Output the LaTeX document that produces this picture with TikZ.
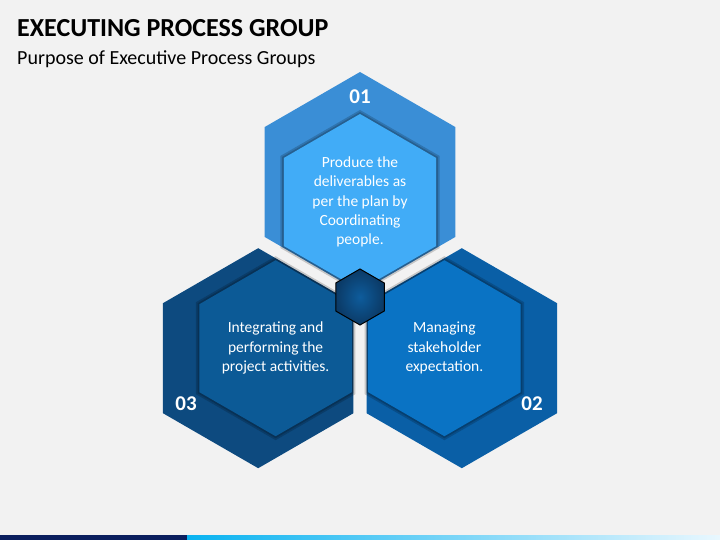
\documentclass[tikz,border=0pt]{standalone}
\usepackage{fontspec}
\setmainfont{Carlito}
\usepackage{tikz}

\definecolor{bgGrey}{HTML}{F2F2F2}
\definecolor{topOuter}{HTML}{3A8ED6}
\definecolor{topInner}{HTML}{41ACF7}
\definecolor{leftOuter}{HTML}{0D4A7F}
\definecolor{leftInner}{HTML}{0C5A96}
\definecolor{rightOuter}{HTML}{0A5FA6}
\definecolor{rightInner}{HTML}{0A73C4}
\definecolor{hubDark}{HTML}{0B3A66}
\definecolor{hubLight}{HTML}{0E5C9C}
\definecolor{barNavy}{HTML}{0B1F5E}
\definecolor{barBlue}{HTML}{0066B3}
\definecolor{barCyan}{HTML}{00B0F0}
\definecolor{barPale}{HTML}{F2FAFF}
\definecolor{barEnd}{HTML}{3FA7DD}

\pgfdeclarehorizontalshading{barShade}{100bp}{color(0bp)=(barBlue); color(23bp)=(barCyan); color(77bp)=(barPale); color(100bp)=(barEnd)}

% hexagon with a point on top: options, centre, radius
\newcommand{\hexshape}[3]{%
  \path[#1,shift={(#2)}] (90:#3) -- (150:#3) -- (210:#3) -- (270:#3) -- (330:#3) -- (30:#3) -- cycle;}

\begin{document}
\begin{tikzpicture}[x=1pt, y=-1pt,
title_style/.style={anchor=base west, inner sep=0, font=\bfseries\fontsize{26}{30}\selectfont},
subtitle_style/.style={anchor=base west, inner sep=0, font=\fontsize{20}{24}\selectfont},
body_style/.style={align=center, text=white, inner sep=0, font=\fontsize{15.5}{19.3}\selectfont},
number_style/.style={text=white, inner sep=0, font=\bfseries\fontsize{21}{24}\selectfont},
shadow_style/.style={fill=black, fill opacity=0.18}]

\fill[bgGrey] (0,0) rectangle (720,540);
\useasboundingbox (0,0) rectangle (720,540);

\node[title_style] (title) at (17,36.5) {EXECUTING PROCESS GROUP};
\node[subtitle_style] (subtitle) at (17,65) {Purpose of Executive Process Groups};

\coordinate (top_out) at (360,182);
\coordinate (left_out) at (258.2,358.2);
\coordinate (right_out) at (461.8,358.2);
\coordinate (top_in) at (360,202);
\coordinate (left_in) at (275.6,348.2);
\coordinate (right_in) at (444.4,348.2);
\coordinate (hub) at (360,297);

% outer hexagons
\hexshape{fill=topOuter}{top_out}{110}
\hexshape{fill=leftOuter}{left_out}{110}
\hexshape{fill=rightOuter}{right_out}{110}

% inner hexagons with a soft shadow
\foreach \c in {top_in,left_in,right_in} {
  \hexshape{shadow_style}{\c}{92}
  \hexshape{shadow_style}{\c}{90}
}
\hexshape{fill=topInner}{top_in}{88}
\hexshape{fill=leftInner}{left_in}{88}
\hexshape{fill=rightInner}{right_in}{88}

% hub
\hexshape{inner color=hubLight, outer color=hubDark, draw=black, line width=1pt}{hub}{28}

\node[number_style] (num_one) at (360,97) {01};
\node[number_style] (num_two) at (532,403.5) {02};
\node[number_style] (num_three) at (186,403.5) {03};

\node[body_style] (text_one) at (top_in) {Produce the\\deliverables as\\per the plan by\\Coordinating\\people.};
\node[body_style] (text_two) at (right_in) {Managing\\stakeholder\\expectation.};
\node[body_style] (text_three) at (left_in) {Integrating and\\performing the\\project activities.};

% bottom bar
\fill[barNavy] (0,535) rectangle (187,540);
\shade[shading=barShade] (187,535) rectangle (720,540);
\end{tikzpicture}
\end{document}
